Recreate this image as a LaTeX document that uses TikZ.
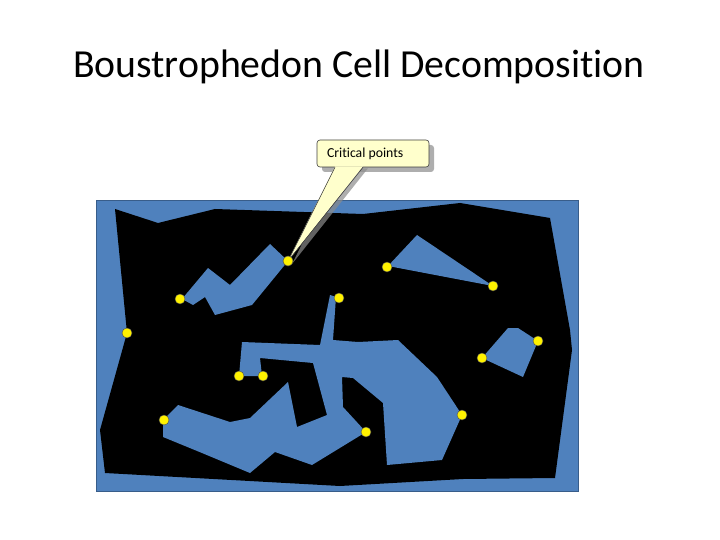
\documentclass[tikz,border=0pt]{standalone}
\usepackage{fontspec}
\setmainfont[Ligatures=NoCommon]{Carlito}
\usepackage{xcolor}
\usetikzlibrary{positioning,shadows}
\definecolor{obstblue}{HTML}{4F81BD}
\definecolor{frameblue}{HTML}{385D8A}
\definecolor{notefill}{HTML}{FFFFCC}
\tikzset{
  critpt/.style={circle,fill=yellow,draw=black!70,line width=0.4bp,inner sep=0pt,minimum size=10bp},
  obst/.style={fill=obstblue},
}

\begin{document}
\begin{tikzpicture}[x=1bp,y=-1bp]
\useasboundingbox (0,0) rectangle (720,540);
\node[anchor=base,font=\fontsize{39.9}{46}\selectfont] (title) at (359,78) {Boustrophedon Cell Decomposition};
% workspace and free space
\draw[frameblue,fill=obstblue,line width=0.8bp] (96,200) rectangle (578,491);
\fill[black] (115,209) -- (158,223) -- (215,209) -- (363,214) -- (460,203) -- (550,218)
  -- (570,330) -- (572,350) -- (555,478) -- (463,479) -- (340,486) -- (105,473)
  -- (100,430) -- (127,333) -- cycle;
% obstacles
\fill[obst] (182,299) -- (208,268) -- (230,285) -- (270,244) -- (288,261) -- (252,305)
  -- (215,315) -- (205,297) -- (193,305) -- cycle;
\fill[obst] (388,266) -- (417,235) -- (493,286) -- cycle;
\fill[obst] (482,358) -- (508,328) -- (518,328) -- (538,341) -- (523,377) -- cycle;
\fill[obst] (163,420) -- (178,405) -- (230,422) -- (250,418) -- (288,382) -- (297,427)
  -- (327,415) -- (313,363) -- (260,358) -- (262,376) -- (239,376) -- (242,342)
  -- (320,345) -- (330,295) -- (336,297) -- (333,340) -- (358,342) -- (398,340)
  -- (437,377) -- (462,415) -- (442,460) -- (387,465) -- (383,403) -- (353,378)
  -- (342,377) -- (343,407) -- (366,432) -- (312,465) -- (275,452) -- (250,473)
  -- (202,453) -- (163,437) -- cycle;
% critical points
\node[critpt] (c1) at (288,261) {};
\node[critpt] (c2) at (387,267) {};
\node[critpt] (c3) at (493,286) {};
\node[critpt] (c4) at (180,299) {};
\node[critpt] (c5) at (339,298) {};
\node[critpt] (c6) at (127,333) {};
\node[critpt] (c7) at (538,341) {};
\node[critpt] (c8) at (482,358) {};
\node[critpt] (c9) at (239,376) {};
\node[critpt] (c10) at (263,376) {};
\node[critpt] (c11) at (164,420) {};
\node[critpt] (c12) at (462,415) {};
\node[critpt] (c13) at (366,432) {};
% callout
\node[draw=black!75,fill=notefill,rounded corners=3bp,minimum width=112bp,minimum height=27bp,
  inner xsep=10bp,line width=0.6bp,font=\fontsize{13.8}{16}\selectfont,
  drop shadow={shadow xshift=5bp,shadow yshift=-5bp,fill=black!45,opacity=0.7}] (note) at (373,153.5) {\makebox[92bp][l]{Critical points}};
\fill[black!45,opacity=0.7] ([xshift=-33bp,yshift=-1bp]note.south) -- ([xshift=4bp,yshift=-3bp]c1.center)
  -- ([xshift=-5bp,yshift=-1bp]note.south) -- cycle;
\fill[notefill] ([xshift=-38bp,yshift=1bp]note.south) -- (c1.center) -- ([xshift=-10bp,yshift=1bp]note.south) -- cycle;
\draw[black!75,line width=0.6bp] ([xshift=-38bp]note.south) -- (c1.center) -- ([xshift=-10bp]note.south);
\node[critpt] at (c1) {};
\end{tikzpicture}
\end{document}
